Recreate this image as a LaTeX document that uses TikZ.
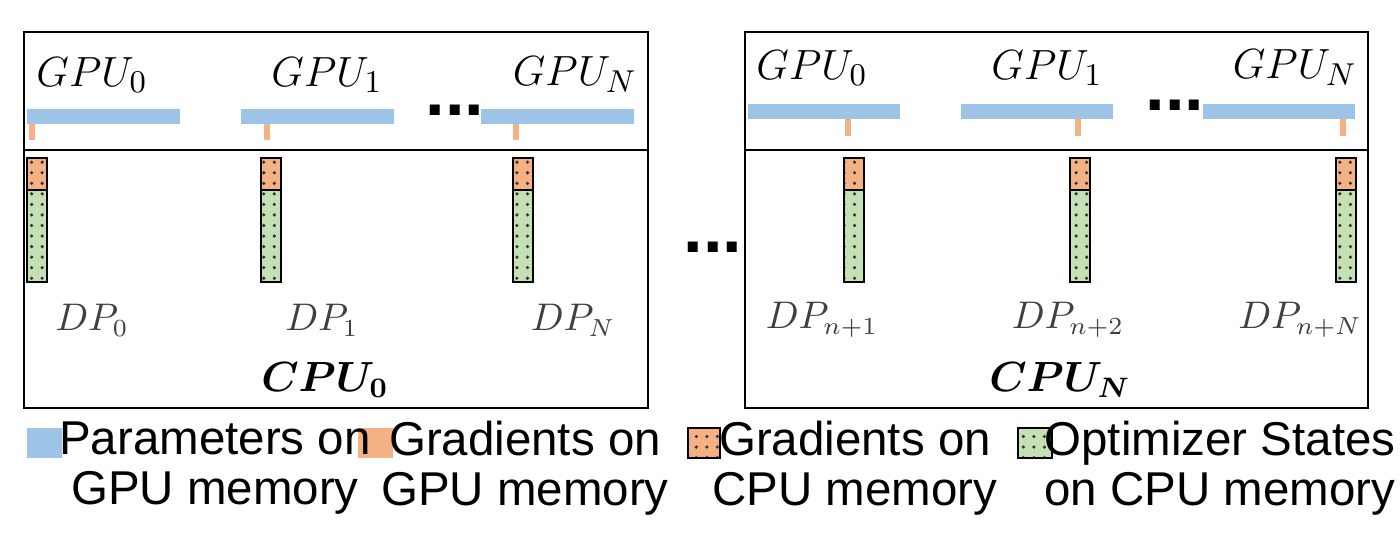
\documentclass[tikz,border=0pt]{standalone}
\usepackage{amsmath,bm}
\usepackage{fontspec}
\setmainfont{Liberation Sans}
\usetikzlibrary{patterns}
\definecolor{parblue}{HTML}{9DC3E6}
\definecolor{gradorange}{HTML}{F4B183}
\definecolor{optgreen}{HTML}{C5E0B4}
\begin{document}
\begin{tikzpicture}[x=0.01cm,y=-0.01cm,
  gpu/.style={font=\fontsize{13}{15}\selectfont},
  dp/.style={font=\fontsize{10.5}{12}\selectfont,text=black!75},
  cpu/.style={font=\fontsize{12}{14}\selectfont},
  legend/.style={font=\fontsize{13.5}{14.3}\selectfont,align=center,inner sep=0pt},
  dotsfill/.style={pattern=dots,pattern color=black!80}]
\useasboundingbox (0,0) rectangle (1400,542);
% machine boxes
\draw[thick] (24,32) rectangle (648,408);
\draw[thick] (745,32) rectangle (1368,408);
\draw[thick] (24,150) -- (648,150);
\draw[thick] (745,150) -- (1368,150);
% GPU labels
\node[gpu] (g00) at (92,75) {$GPU_0$};
\node[gpu] (g01) at (327,75) {$GPU_1$};
\node[gpu] (g0n) at (575,75) {$GPU_N$};
\node[gpu] (g10) at (812,68) {$GPU_0$};
\node[gpu] (g11) at (1047,68) {$GPU_1$};
\node[gpu] (g1n) at (1295,68) {$GPU_N$};
% parameters and gradients on GPU
\foreach \x/\t in {27/29,241/264,481/513} {
  \fill[parblue] (\x,109) rectangle +(153,15);
  \fill[gradorange] (\t,124) rectangle +(6,16);
}
\foreach \x/\t in {748/845,961/1075,1203/1340} {
  \fill[parblue] (\x,104) rectangle +(152,15);
  \fill[gradorange] (\t,119) rectangle +(6,17);
}
\node[font=\fontsize{20}{20}\selectfont\bfseries] (dl) at (455,110) {...};
\node[font=\fontsize{20}{20}\selectfont\bfseries] (dr) at (1175,105) {...};
\node[font=\fontsize{20}{20}\selectfont\bfseries] (dm) at (713,247) {...};
% CPU memory columns
\foreach \x in {27,261,513,844,1070,1336} {
  \fill[gradorange] (\x,158) rectangle +(20,32);
  \fill[dotsfill] (\x,158) rectangle +(20,32);
  \fill[optgreen] (\x,190) rectangle +(20,92);
  \fill[dotsfill] (\x,190) rectangle +(20,92);
  \draw (\x,158) rectangle +(20,124);
  \draw (\x,190) -- +(20,0);
}
% data parallel labels
\node[dp] (dp0) at (92,320) {$DP_0$};
\node[dp] (dp1) at (322,320) {$DP_1$};
\node[dp] (dpn) at (573,320) {$DP_N$};
\node[dp] (dpa) at (822,320) {$DP_{n+1}$};
\node[dp] (dpb) at (1068,320) {$DP_{n+2}$};
\node[dp] (dpc) at (1300,320) {$DP_{n+N}$};
\node[cpu] (c0) at (325,380) {$\bm{CPU_0}$};
\node[cpu] (cn) at (1060,380) {$\bm{CPU_N}$};
% legend
\fill[parblue] (27,428) rectangle (62,458);
\fill[gradorange] (358,428) rectangle (393,458);
\fill[gradorange] (688,428) rectangle (720,458);
\fill[dotsfill] (688,428) rectangle (720,458);
\draw (688,428) rectangle (720,458);
\fill[optgreen] (1018,428) rectangle (1052,458);
\fill[dotsfill] (1018,428) rectangle (1052,458);
\draw (1018,428) rectangle (1052,458);
\node[legend] (lp) at (215,468) {Parameters on\\GPU memory};
\node[legend] (lg) at (525,468) {Gradients on\\GPU memory};
\node[legend] (lc) at (855,468) {Gradients on\\CPU memory};
\node[legend] (lo) at (1220,468) {Optimizer States\\on CPU memory};
\end{tikzpicture}
\end{document}
